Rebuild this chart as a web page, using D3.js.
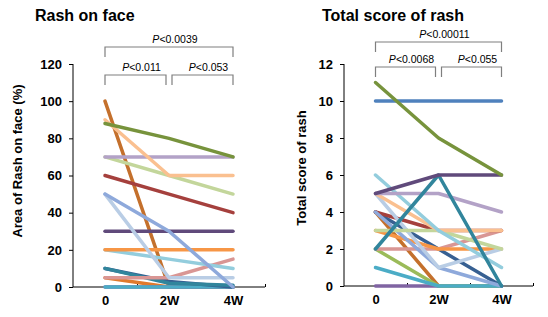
<!DOCTYPE html>
<html>
<head>
<meta charset="utf-8">
<script src="https://cdn.jsdelivr.net/npm/d3@7"></script>
<style>
  body { margin: 0; background: #fff; }
  svg { display: block; font-family: "Liberation Sans", Arial, sans-serif; }
</style>
</head>
<body>
<svg id="chart" width="548" height="317"></svg>
<script>
// visits on the x axis
const visits = ["0", "2W", "4W"]

// Rash on face: area (%) per patient at 0, 2W, 4W
const faceColors = ["#C4702C", "#E07A2E", "#8064A2", "#4BACC6", "#376092", "#31859C", "#D99694",
  "#93CDDD", "#F79646", "#604A7B", "#B9CDE5", "#8EA9DB", "#A5403D", "#C3D69B", "#B3A2C7",
  "#FAC090", "#77933C"]
const faceArea = [
  [100, 0, 0],
  [5, 0, 0],
  [0, 0, 0],
  [0, 0, 0],
  [10, 3, 0],
  [10, 2, 1],
  [5, 5, 15],
  [20, 15, 10],
  [20, 20, 20],
  [30, 30, 30],
  [50, 5, 5],
  [50, 30, 0],
  [60, 50, 40],
  [70, 60, 50],
  [70, 70, 70],
  [90, 60, 60],
  [88, 80, 70]
]
const faceTicks = [0, 20, 40, 60, 80, 100, 120]

// Total score of rash per patient at 0, 2W, 4W
const scoreColors = ["#C4702C", "#8064A2", "#9BBB59", "#4BACC6", "#376092", "#D99694", "#F79646",
  "#A5403D", "#8EA9DB", "#B9CDE5", "#C3D69B", "#FAC090", "#93CDDD", "#B3A2C7", "#31859C",
  "#604A7B", "#4F81BD", "#77933C"]
const totalScore = [
  [4, 0, 0],
  [0, 0, 0],
  [2, 0, 0],
  [1, 0, 0],
  [4, 2, 0],
  [2, 2, 3],
  [3, 2, 2],
  [4, 3, 3],
  [4, 1, 0],
  [5, 1, 2],
  [3, 3, 2],
  [5, 3, 3],
  [6, 3, 1],
  [5, 5, 4],
  [2, 6, 0],
  [5, 6, 6],
  [10, 10, 10],
  [11, 8, 6]
]
const scoreTicks = [0, 2, 4, 6, 8, 10, 12]

// significance brackets: [from, to, label]
const faceStats = [[0, 2, "<0.0039"], [0, 1, "<0.011"], [1, 2, "<0.053"]]
const scoreStats = [[0, 2, "<0.00011"], [0, 1, "<0.0068"], [1, 2, "<0.055"]]

const svg = d3.select("#chart")

function panel(opts) {
  const g = svg.append("g")
  const x = d3.scalePoint().domain(visits).range([opts.x0, opts.x1]).padding(0.5)
  const xb = d3.scaleLinear().domain([-0.5, 2.5]).range([opts.x0, opts.x1])
  const y = d3.scaleLinear().domain([0, opts.max]).range([opts.y0, opts.y1])

  // title
  g.append("text")
    .attr("x", opts.titleX).attr("y", 21)
    .attr("font-size", "16px").attr("font-weight", "bold")
    .text(opts.title)

  // y axis
  const ya = g.append("g")
    .attr("transform", `translate(${opts.x0},0)`)
    .call(d3.axisLeft(y).tickValues(opts.ticks).tickSize(4).tickPadding(7))
  ya.selectAll("text").attr("font-size", "13px").attr("font-weight", "bold").attr("fill", "#000")
  ya.selectAll(".domain").attr("d", `M-0,${opts.y0}V${opts.y1}`)

  g.append("text")
    .attr("transform", `translate(${opts.labelX},${opts.labelY}) rotate(-90)`)
    .attr("text-anchor", "middle")
    .attr("font-size", "13px").attr("font-weight", "bold")
    .text(opts.yLabel)

  // x axis: labels at points, small ticks between visits
  const xa = g.append("g")
    .attr("transform", `translate(0,${opts.y0})`)
    .call(d3.axisBottom(x).tickSize(0).tickPadding(9))
  xa.selectAll("text").attr("font-size", "13px").attr("font-weight", "bold").attr("fill", "#000")
  xa.select(".domain").remove()

  const xt = g.append("g")
    .attr("transform", `translate(0,${opts.y0})`)
    .call(d3.axisTop(xb).tickValues([0.5, 1.5, 2.5]).tickSize(3).tickFormat(""))
  xt.select(".domain").attr("d", `M${opts.x0},0H${opts.x1}`)

  // patient lines
  const line = d3.line().x((d, i) => x(visits[i])).y(d => y(d))
  g.selectAll("path.patient")
    .data(opts.values)
    .enter()
    .append("path")
    .attr("class", "patient")
    .attr("d", line)
    .attr("fill", "none")
    .attr("stroke", (d, i) => opts.colors[i])
    .attr("stroke-width", 3.5)
    .attr("stroke-linecap", "round")
    .attr("stroke-linejoin", "round")

  // brackets
  opts.stats.forEach(([a, b, lab], k) => {
    const top = k === 0 ? opts.bigY : opts.smallY
    let xa0 = x(visits[a]), xa1 = x(visits[b])
    if (k === 1) xa1 -= 3
    if (k === 2) xa0 += 3
    g.append("path")
      .attr("d", `M${xa0},${top + 10}V${top}H${xa1}V${top + 10}`)
      .attr("fill", "none")
      .attr("stroke", "#7f7f7f")
      .attr("stroke-width", 1.2)
    const t = g.append("text")
      .attr("x", (xa0 + xa1) / 2 + 6).attr("y", top - 4)
      .attr("text-anchor", "middle")
      .attr("font-size", "10.5px")
    t.append("tspan").attr("font-style", "italic").text("P")
    t.append("tspan").text(lab)
  })
}

panel({
  title: "Rash on face", titleX: 35,
  x0: 73, x1: 265, y0: 287, y1: 64, max: 120,
  ticks: faceTicks, values: faceArea, colors: faceColors,
  yLabel: "Area of Rash on face (%)", labelX: 22, labelY: 161,
  stats: faceStats, bigY: 47, smallY: 75
})

panel({
  title: "Total score of rash", titleX: 322,
  x0: 344, x1: 533, y0: 286, y1: 64, max: 12,
  ticks: scoreTicks, values: totalScore, colors: scoreColors,
  yLabel: "Total score of rash", labelX: 306, labelY: 168,
  stats: scoreStats, bigY: 42, smallY: 67
})
</script>
</body>
</html>
